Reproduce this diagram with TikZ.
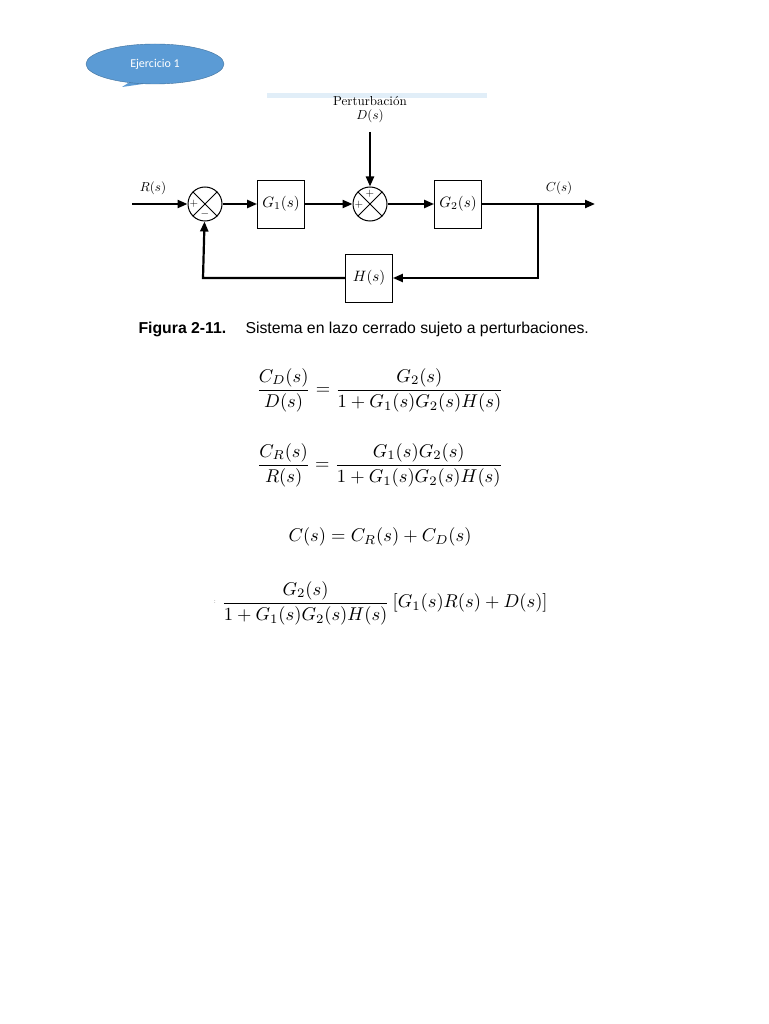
\documentclass[tikz,border=0pt]{standalone}
\usepackage{amsmath}
\usepackage{fontspec}
\newfontfamily\capfont{Liberation Sans}
\newfontfamily\calfont{Carlito}
\usetikzlibrary{arrows.meta,shapes.geometric}
\definecolor{cblue}{RGB}{91,155,213}
\definecolor{cdblue}{RGB}{65,113,156}
\definecolor{lband}{RGB}{225,238,248}
\newcommand\mysz[2]{\scalebox{#1}{#2}}
\begin{document}
\begin{tikzpicture}[x=1pt,y=-1pt,
  blk/.style={draw,line width=0.8pt,minimum width=47pt,minimum height=48pt,inner sep=0pt},
  sumj/.style={draw,circle,line width=1pt,minimum size=34pt,inner sep=0pt},
  sig/.style={line width=2.2pt,-{Triangle[length=10pt,width=8pt]}},
  wire/.style={line width=2.2pt}]
\useasboundingbox (0,0) rectangle (768,1024);
\fill[white] (0,0) rectangle (768,1024);
% callout
\fill[cblue] (133,80) -- (122,87) -- (150,83) -- cycle;
\node[ellipse,fill=cblue,draw=cdblue,minimum width=138pt,minimum height=40pt,text=white,font=\calfont\fontsize{12}{12}\selectfont] (call) at (155,64) {Ejercicio 1};
\fill[lband] (267,93) rectangle (487,98);
% diagram
\node (pert) at (370,101) {\mysz{1.3}{Perturbación}};
\node (dlab) at (370,116) {\mysz{1.3}{$D(s)$}};
\coordinate (dtop) at (370,132);
\coordinate (rin) at (132,204);
\node (rlab) at (153,188) {\mysz{1.3}{$R(s)$}};
\node[sumj] (s1) at (205,204) {};
\draw[line width=1pt] (s1.45) -- (s1.225) (s1.135) -- (s1.315);
\node at (194,204) {\mysz{1.1}{$+$}};
\node at (205,214) {\mysz{1.1}{$-$}};
\node[blk] (g1) at (281,204) {\mysz{1.5}{$G_1(s)$}};
\node[sumj] (s2) at (370,204) {};
\draw[line width=1pt] (s2.45) -- (s2.225) (s2.135) -- (s2.315);
\node at (359,205) {\mysz{1.1}{$+$}};
\node at (370,194) {\mysz{1.1}{$+$}};
\node[blk] (g2) at (458,204) {\mysz{1.5}{$G_2(s)$}};
\coordinate (br) at (538,204);
\coordinate (cout) at (595,204);
\node (clab) at (559,188) {\mysz{1.3}{$C(s)$}};
\node[blk] (h) at (369,278) {\mysz{1.5}{$H(s)$}};
\coordinate (c1) at (538,278);
\coordinate (c2) at (203,278);
\draw[sig] (rin) -- (s1);
\draw[sig] (s1) -- (g1);
\draw[sig] (g1) -- (s2);
\draw[sig] (dtop) -- (s2);
\draw[sig] (s2) -- (g2);
\draw[wire] (g2) -- (br);
\draw[sig] (br) -- (cout);
\draw[sig] (br) -- (c1) -- (h);
\draw[sig] (h) -- (c2) -- (s1);
\node[anchor=west,font=\capfont\bfseries\fontsize{15.8}{16}\selectfont] (figl) at (135,329) {Figura 2-11.};
\node[anchor=west,font=\capfont\fontsize{15.8}{16}\selectfont] (figt) at (242,329) {Sistema en lazo cerrado sujeto a perturbaciones.};
% equations
\node (e1) at (380,390) {\mysz{1.85}{$\dfrac{C_D(s)}{D(s)} = \dfrac{G_2(s)}{1+G_1(s)G_2(s)H(s)}$}};
\node (e2) at (380,465) {\mysz{1.85}{$\dfrac{C_R(s)}{R(s)} = \dfrac{G_1(s)G_2(s)}{1+G_1(s)G_2(s)H(s)}$}};
\node (e3) at (380,537) {\mysz{1.85}{$C(s) = C_R(s) + C_D(s)$}};
\node (dots) at (215,602) {\mysz{0.6}{:}};
\node[anchor=west] (e4) at (218,603) {\mysz{1.85}{$\dfrac{G_2(s)}{1+G_1(s)G_2(s)H(s)}\,[G_1(s)R(s)+D(s)]$}};
\end{tikzpicture}
\end{document}
